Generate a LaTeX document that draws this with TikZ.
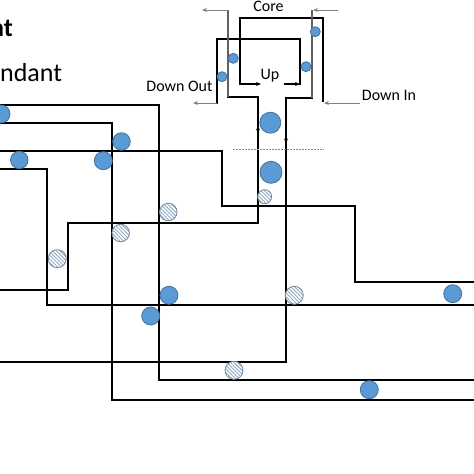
\documentclass[tikz,border=0pt]{standalone}
\usepackage{fontspec}
\setmainfont{Carlito}
\usetikzlibrary{arrows.meta,patterns,patterns.meta}
\definecolor{cblue}{HTML}{5B9BD5}
\definecolor{cbord}{HTML}{41719C}
\definecolor{hatchc}{HTML}{8FA9C4}
\tikzset{
  wire/.style={line width=2.6pt, line join=miter, line cap=rect},
  gwire/.style={line width=1.6pt, draw=black!62},
  garrow/.style={line width=1pt, draw=black!50, -{Stealth[length=5pt,width=4pt]}},
  uparrow/.style={line width=1.2pt, -{Stealth[length=5pt,width=4pt]}},
  tick/.style={line width=1pt, -{Stealth[length=4.5pt,width=4pt]}},
  blob/.style={circle, fill=cblue, draw=cbord, line width=0.8pt, inner sep=0pt, minimum size=#1},
  hat/.style={circle, draw=hatchc!80!black, preaction={fill=white}, pattern={Lines[angle=-45,distance=2.6pt,line width=0.9pt]}, pattern color=hatchc, line width=0.8pt, inner sep=0pt, minimum size=#1},
  lbl/.style={font=\fontsize{16}{16}\selectfont, inner sep=0pt, anchor=base},
  big/.style={font=\fontsize{26}{26}\selectfont, inner sep=0pt, anchor=base west},
}
\begin{document}
\begin{tikzpicture}[x=1pt, y=-1pt]
\useasboundingbox (0,0) rectangle (474,474);
\fill[white] (0,0) rectangle (474,474);

% titles (cut at left edge, as in the reference)
\node[big, font=\fontsize{26}{26}\selectfont\bfseries] (t1) at (-10,36) {nt};
\node[big] (t2) at (0,81.5) {ndant};

% labels
\node[lbl] (core) at (268.5,11.5) {Core};
\node[lbl] (up) at (270,79) {Up};
\node[lbl] (dout) at (179.5,91) {Down Out};
\node[lbl] (din) at (389,100) {Down In};

% coordinates of arrow ends
\coordinate (tlA) at (228,10);
\coordinate (tlB) at (202,10);
\coordinate (trA) at (338,10);
\coordinate (trB) at (313,10);
\coordinate (doA) at (217,103);
\coordinate (doB) at (193,103);
\coordinate (diA) at (360,103);
\coordinate (diB) at (324,103);

% main wires
\draw[wire] (0,105) -- (159,105) -- (159,380) -- (474,380);
\draw[wire] (0,123) -- (112,123) -- (112,400) -- (474,400);
\draw[wire] (0,151) -- (222,151) -- (222,206) -- (355,206) -- (355,282) -- (474,282);
\draw[wire] (0,169) -- (47,169) -- (47,305) -- (474,305);
\draw[wire] (0,290) -- (68,290) -- (68,223) -- (258,223) -- (258,97) -- (228,97);
\draw[wire] (0,362) -- (286,362) -- (286,98) -- (312,98);

% core structure
\draw[wire] (217,103) -- (217,39) -- (300,39) -- (300,84);
\draw[wire] (240,84) -- (240,18) -- (323,18) -- (323,101);
\draw[gwire] (228,97) -- (tlA);
\draw[gwire] (312,98) -- (312,10);

% gray in/out arrows
\draw[garrow] (tlA) -- (tlB);
\draw[garrow] (trA) -- (trB);
\draw[garrow] (doA) -- (doB);
\draw[garrow] (diA) -- (diB);

% Up arrows
\draw[uparrow] (240,84) -- (261,84);
\draw[uparrow] (284,84) -- (300,84);

% direction ticks on the neck
\draw[tick] (258,134) -- (258,126);
\draw[tick] (286,135) -- (286,143);

% dotted level
\draw[black!45, line width=0.7pt, dash pattern=on 1.5pt off 1.5pt] (233,149) -- (324,149);

% filled particles
\node[blob=18pt] (b1) at (1,114) {};
\node[blob=17.5pt] (b2) at (121.5,141.5) {};
\node[blob=17.5pt] (b3) at (19.3,160) {};
\node[blob=18pt] (b4) at (103.3,160.7) {};
\node[blob=18pt] (b5) at (169,295.3) {};
\node[blob=18pt] (b6) at (150.7,316) {};
\node[blob=18pt] (b7) at (452.7,293.7) {};
\node[blob=18pt] (b8) at (369.3,389.7) {};
\node[blob=10pt] (b9) at (315.3,31.7) {};
\node[blob=10pt] (b10) at (306,66.7) {};
\node[blob=10pt] (b11) at (233.3,58.3) {};
\node[blob=10pt] (b12) at (222,76.7) {};
\node[blob=21pt] (b13) at (270.3,122.7) {};
\node[blob=22pt] (b14) at (271,172.3) {};

% hatched particles
\node[hat=17.5pt] (h1) at (168.3,212) {};
\node[hat=17.5pt] (h2) at (120.7,233) {};
\node[hat=18pt] (h3) at (57.3,258.7) {};
\node[hat=18pt] (h4) at (234,370.3) {};
\node[hat=18pt] (h5) at (294.3,295.3) {};
\node[hat=14pt] (h6) at (264.7,196.7) {};
\end{tikzpicture}
\end{document}
